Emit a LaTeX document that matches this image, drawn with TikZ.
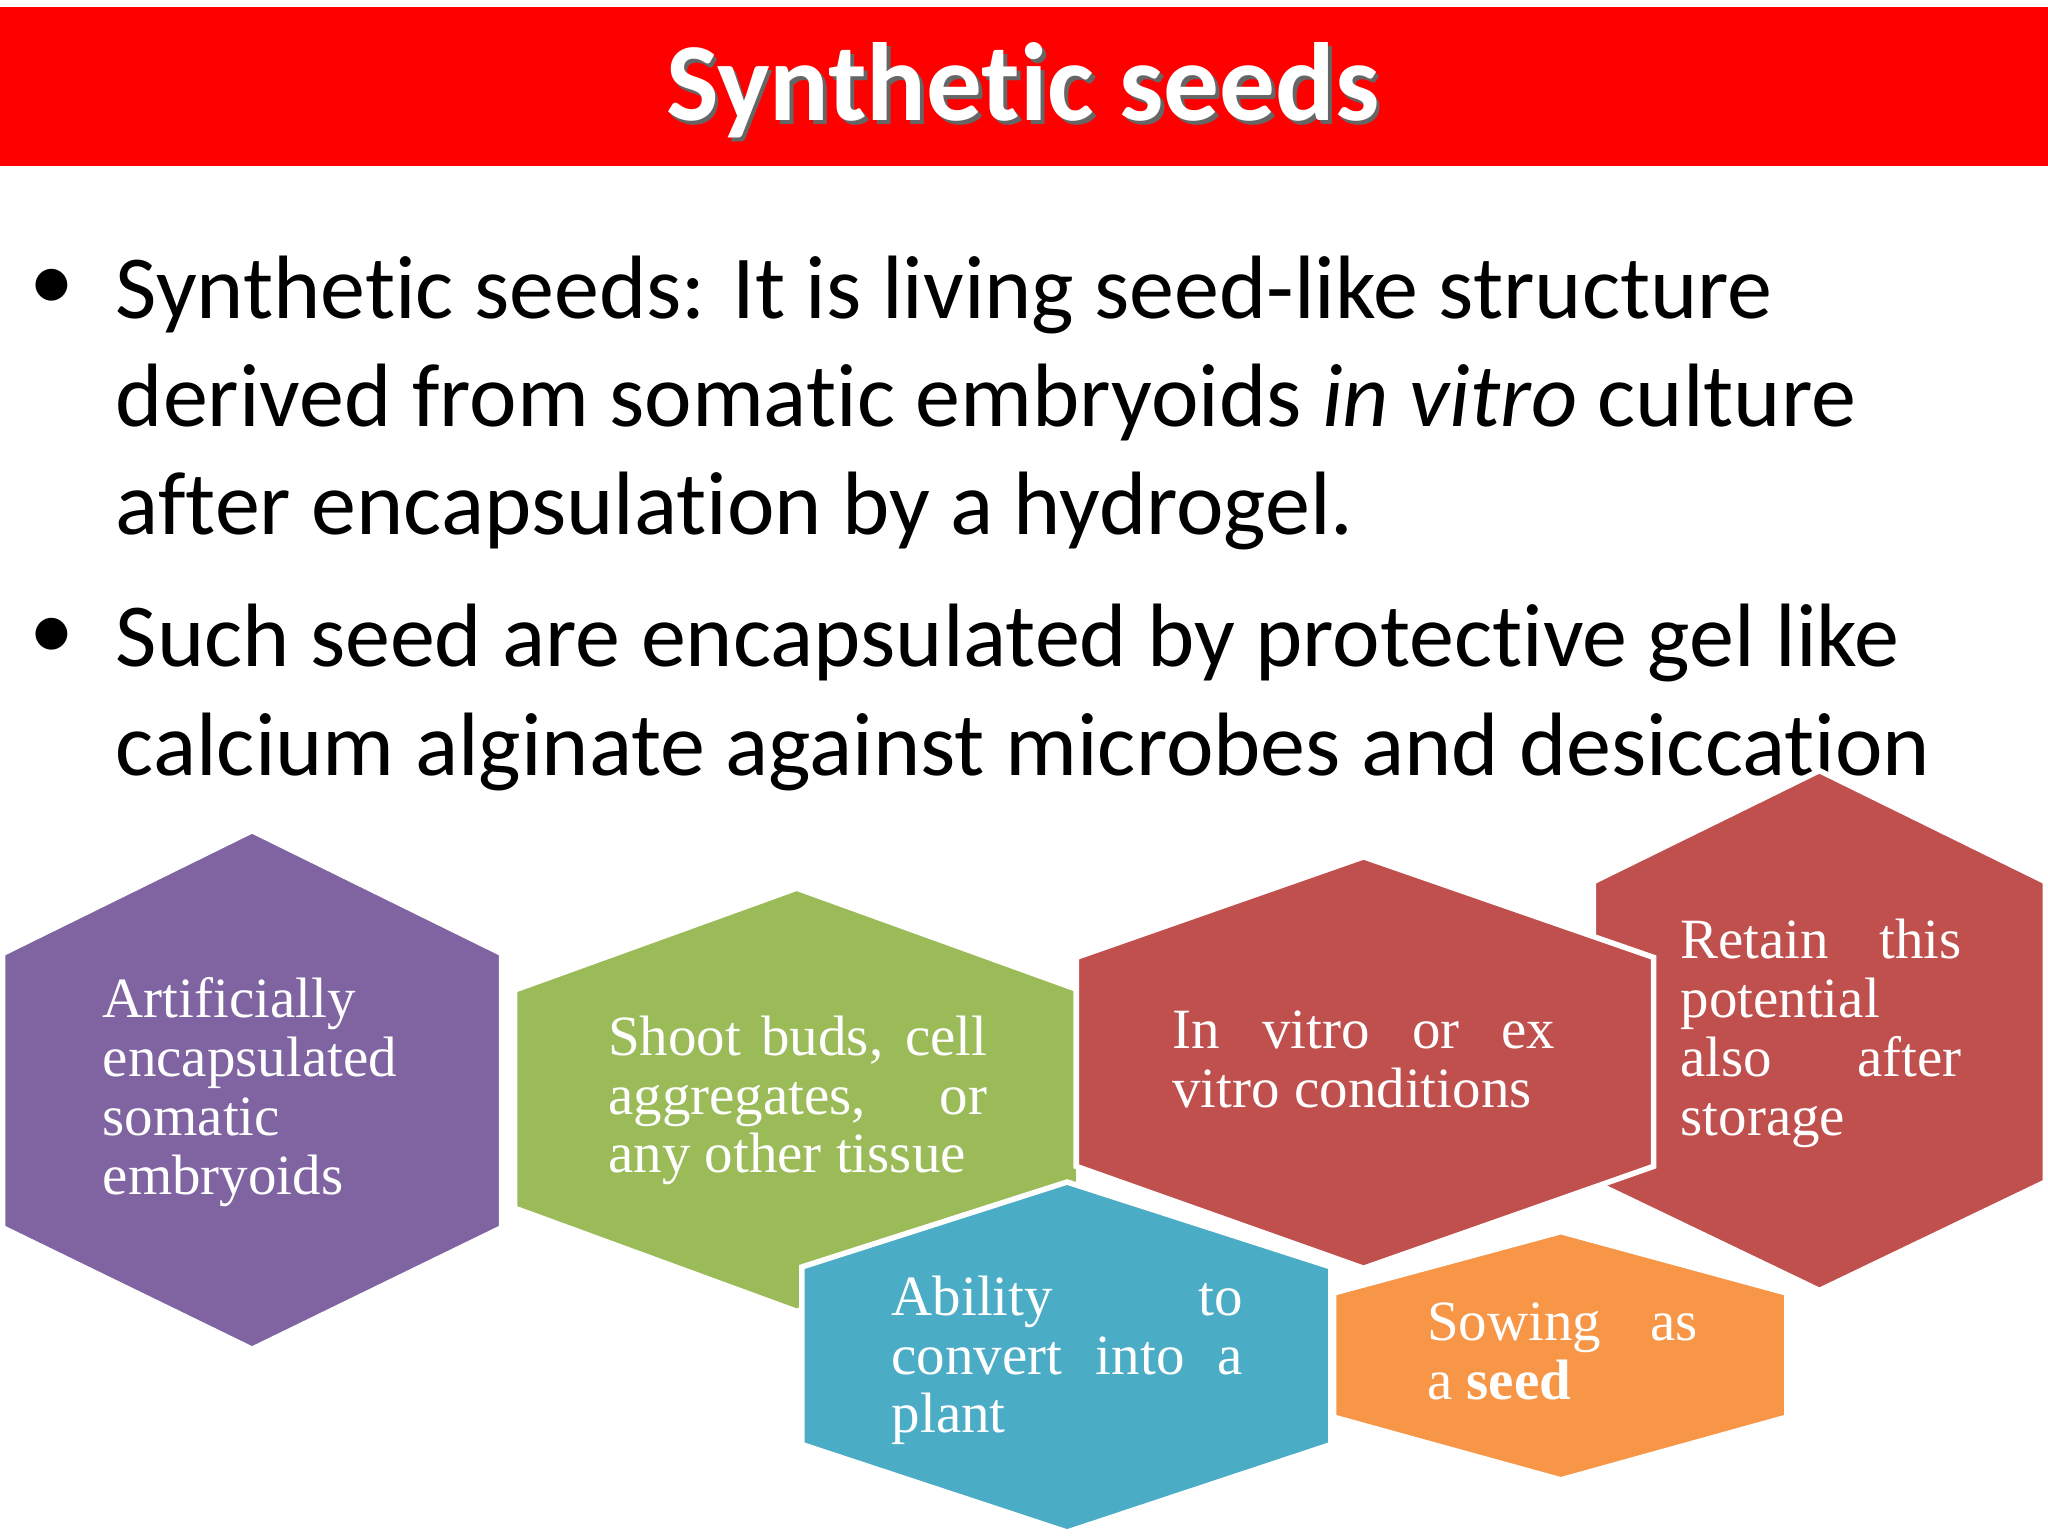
\documentclass[tikz,border=0pt]{standalone}
\usepackage{fontspec}
\setmainfont{Liberation Serif}
\newfontfamily\calib[Ligatures=NoCommon]{Carlito}
\definecolor{hpurple}{HTML}{8064A2}
\definecolor{hgreen}{HTML}{9BBB59}
\definecolor{hred}{HTML}{C0504D}
\definecolor{hblue}{HTML}{4BACC6}
\definecolor{horange}{HTML}{F79646}
\definecolor{titlered}{HTML}{FF0000}
\newcommand{\jl}[2]{\makebox[#1][s]{#2}}
\begin{document}
\begin{tikzpicture}[x=0.01cm,y=-0.01cm,
  hexa/.style={draw=white,line width=1.2pt,line join=miter},
  htext/.style={text=white,anchor=north west,inner sep=0pt,align=left,font=\fontsize{12.4}{12.8}\selectfont},
  btext/.style={anchor=north west,inner sep=0pt,align=left,font=\calib\fontsize{19.6}{23.6}\selectfont}]
\useasboundingbox (0,0) rectangle (1568,1176);
\fill[white] (0,0) rectangle (1568,1176);
\fill[titlered] (0,5) rectangle (1568,127);
\node[text=black!60,font=\calib\bfseries\fontsize{24.2}{28}\selectfont] (tsh) at (786,72) {Synthetic seeds};
\node[text=white,font=\calib\bfseries\fontsize{24.2}{28}\selectfont] (title) at (783,69) {Synthetic seeds};
\node[font=\calib\fontsize{19.6}{23.6}\selectfont] (b1) at (40,222) {\textbullet};
\node[btext] (t1) at (88,195) {Synthetic seeds: It is living seed-like structure\\derived from somatic embryoids \textit{in vitro} culture\\after encapsulation by a hydrogel.};
\node[font=\calib\fontsize{19.6}{23.6}\selectfont] (b2) at (40,489) {\textbullet};
\node[btext] (t2) at (88,462) {Such seed are encapsulated by protective gel like\\calcium alginate against microbes and desiccation};
% hexagons
\fill[hpurple,hexa] (193,636) -- (384,730) -- (384,940) -- (193,1033) -- (2,940) -- (2,730) -- cycle;
\fill[hgreen,hexa] (610,680) -- (826,758) -- (826,925) -- (610,1004) -- (394,925) -- (394,758) -- cycle;
\fill[hred,hexa] (1393,590) -- (1566,675) -- (1566,905) -- (1393,988) -- (1220,905) -- (1220,675) -- cycle;
\fill[hred,hexa] (1044,656) -- (1266,733) -- (1266,893) -- (1044,971) -- (824,893) -- (824,733) -- cycle;
\fill[hblue,hexa] (817,905) -- (1019,970) -- (1019,1106) -- (817,1173) -- (614,1106) -- (614,970) -- cycle;
\fill[horange,hexa] (1195,943) -- (1368,990) -- (1368,1085) -- (1195,1133) -- (1021,1085) -- (1021,990) -- cycle;
% texts
\node[htext] (p) at (78,748) {Artificially\\encapsulated\\somatic\\embryoids};
\node[htext] (g) at (465,777) {\jl{2.9cm}{Shoot buds, cell}\\\jl{2.9cm}{aggregates, or}\\any other tissue};
\node[htext] (r1) at (897,773) {\jl{2.93cm}{In vitro or ex}\\vitro conditions};
\node[htext] (r2) at (1286,703) {\jl{2.15cm}{Retain this}\\potential\\\jl{2.15cm}{also after}\\storage};
\node[htext] (bl) at (682,976) {\jl{2.69cm}{Ability to}\\\jl{2.69cm}{convert into a}\\plant};
\node[htext] (o) at (1092,997) {\jl{2.07cm}{Sowing as}\\a \textbf{seed}};
\end{tikzpicture}
\end{document}
